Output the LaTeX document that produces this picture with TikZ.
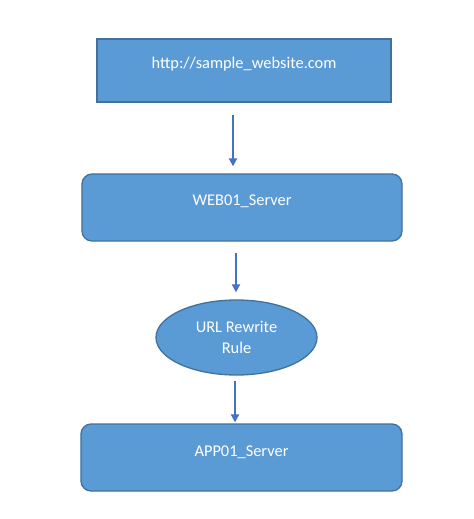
\documentclass[tikz,border=0pt]{standalone}
\usepackage{fontspec}
\setmainfont{Carlito}
\usetikzlibrary{shapes.geometric,arrows.meta}
\definecolor{boxfill}{HTML}{5B9BD5}
\definecolor{boxline}{HTML}{41719C}
\definecolor{arrcol}{HTML}{4472C4}
\begin{document}
\begin{tikzpicture}[x=1bp,y=-1bp,
  base/.style={fill=boxfill,draw=boxline,line width=1.3bp,text=white,
    font=\fontsize{16.4bp}{21bp}\selectfont,inner sep=0pt},
  sqbox/.style={base,rectangle,text height=12bp,text depth=15bp},
  rdbox/.style={base,rectangle,rounded corners=10bp,text height=12bp,text depth=15bp},
  oval/.style={base,ellipse,align=center},
  arr/.style={draw=arrcol,line width=2bp,-{Triangle[width=8bp,length=8bp]}}]
\useasboundingbox (0,0) rectangle (474,519);
\fill[white] (0,0) rectangle (474,519);
\node[sqbox,minimum width=294bp,minimum height=63bp] (b1) at (244,70.5) {http://sample\_website.com};
\node[rdbox,minimum width=320bp,minimum height=67bp] (b2) at (242,207.5) {WEB01\_Server};
\node[oval,minimum width=161bp,minimum height=75bp] (e1) at (236.5,337.5) {URL Rewrite\\Rule};
\node[rdbox,minimum width=321bp,minimum height=67bp] (b3) at (241.5,457.5) {APP01\_Server};
\draw[arr,shorten <=12bp,shorten >=7bp] (b1.south -| 233,0) -- (b2.north -| 233,0);
\draw[arr,shorten <=11bp,shorten >=7bp] (b2.south -| 236,0) -- (e1.north -| 236,0);
\draw[arr,shorten <=5bp,shorten >=1bp] (e1.south -| 235,0) -- (b3.north -| 235,0);
\end{tikzpicture}
\end{document}
